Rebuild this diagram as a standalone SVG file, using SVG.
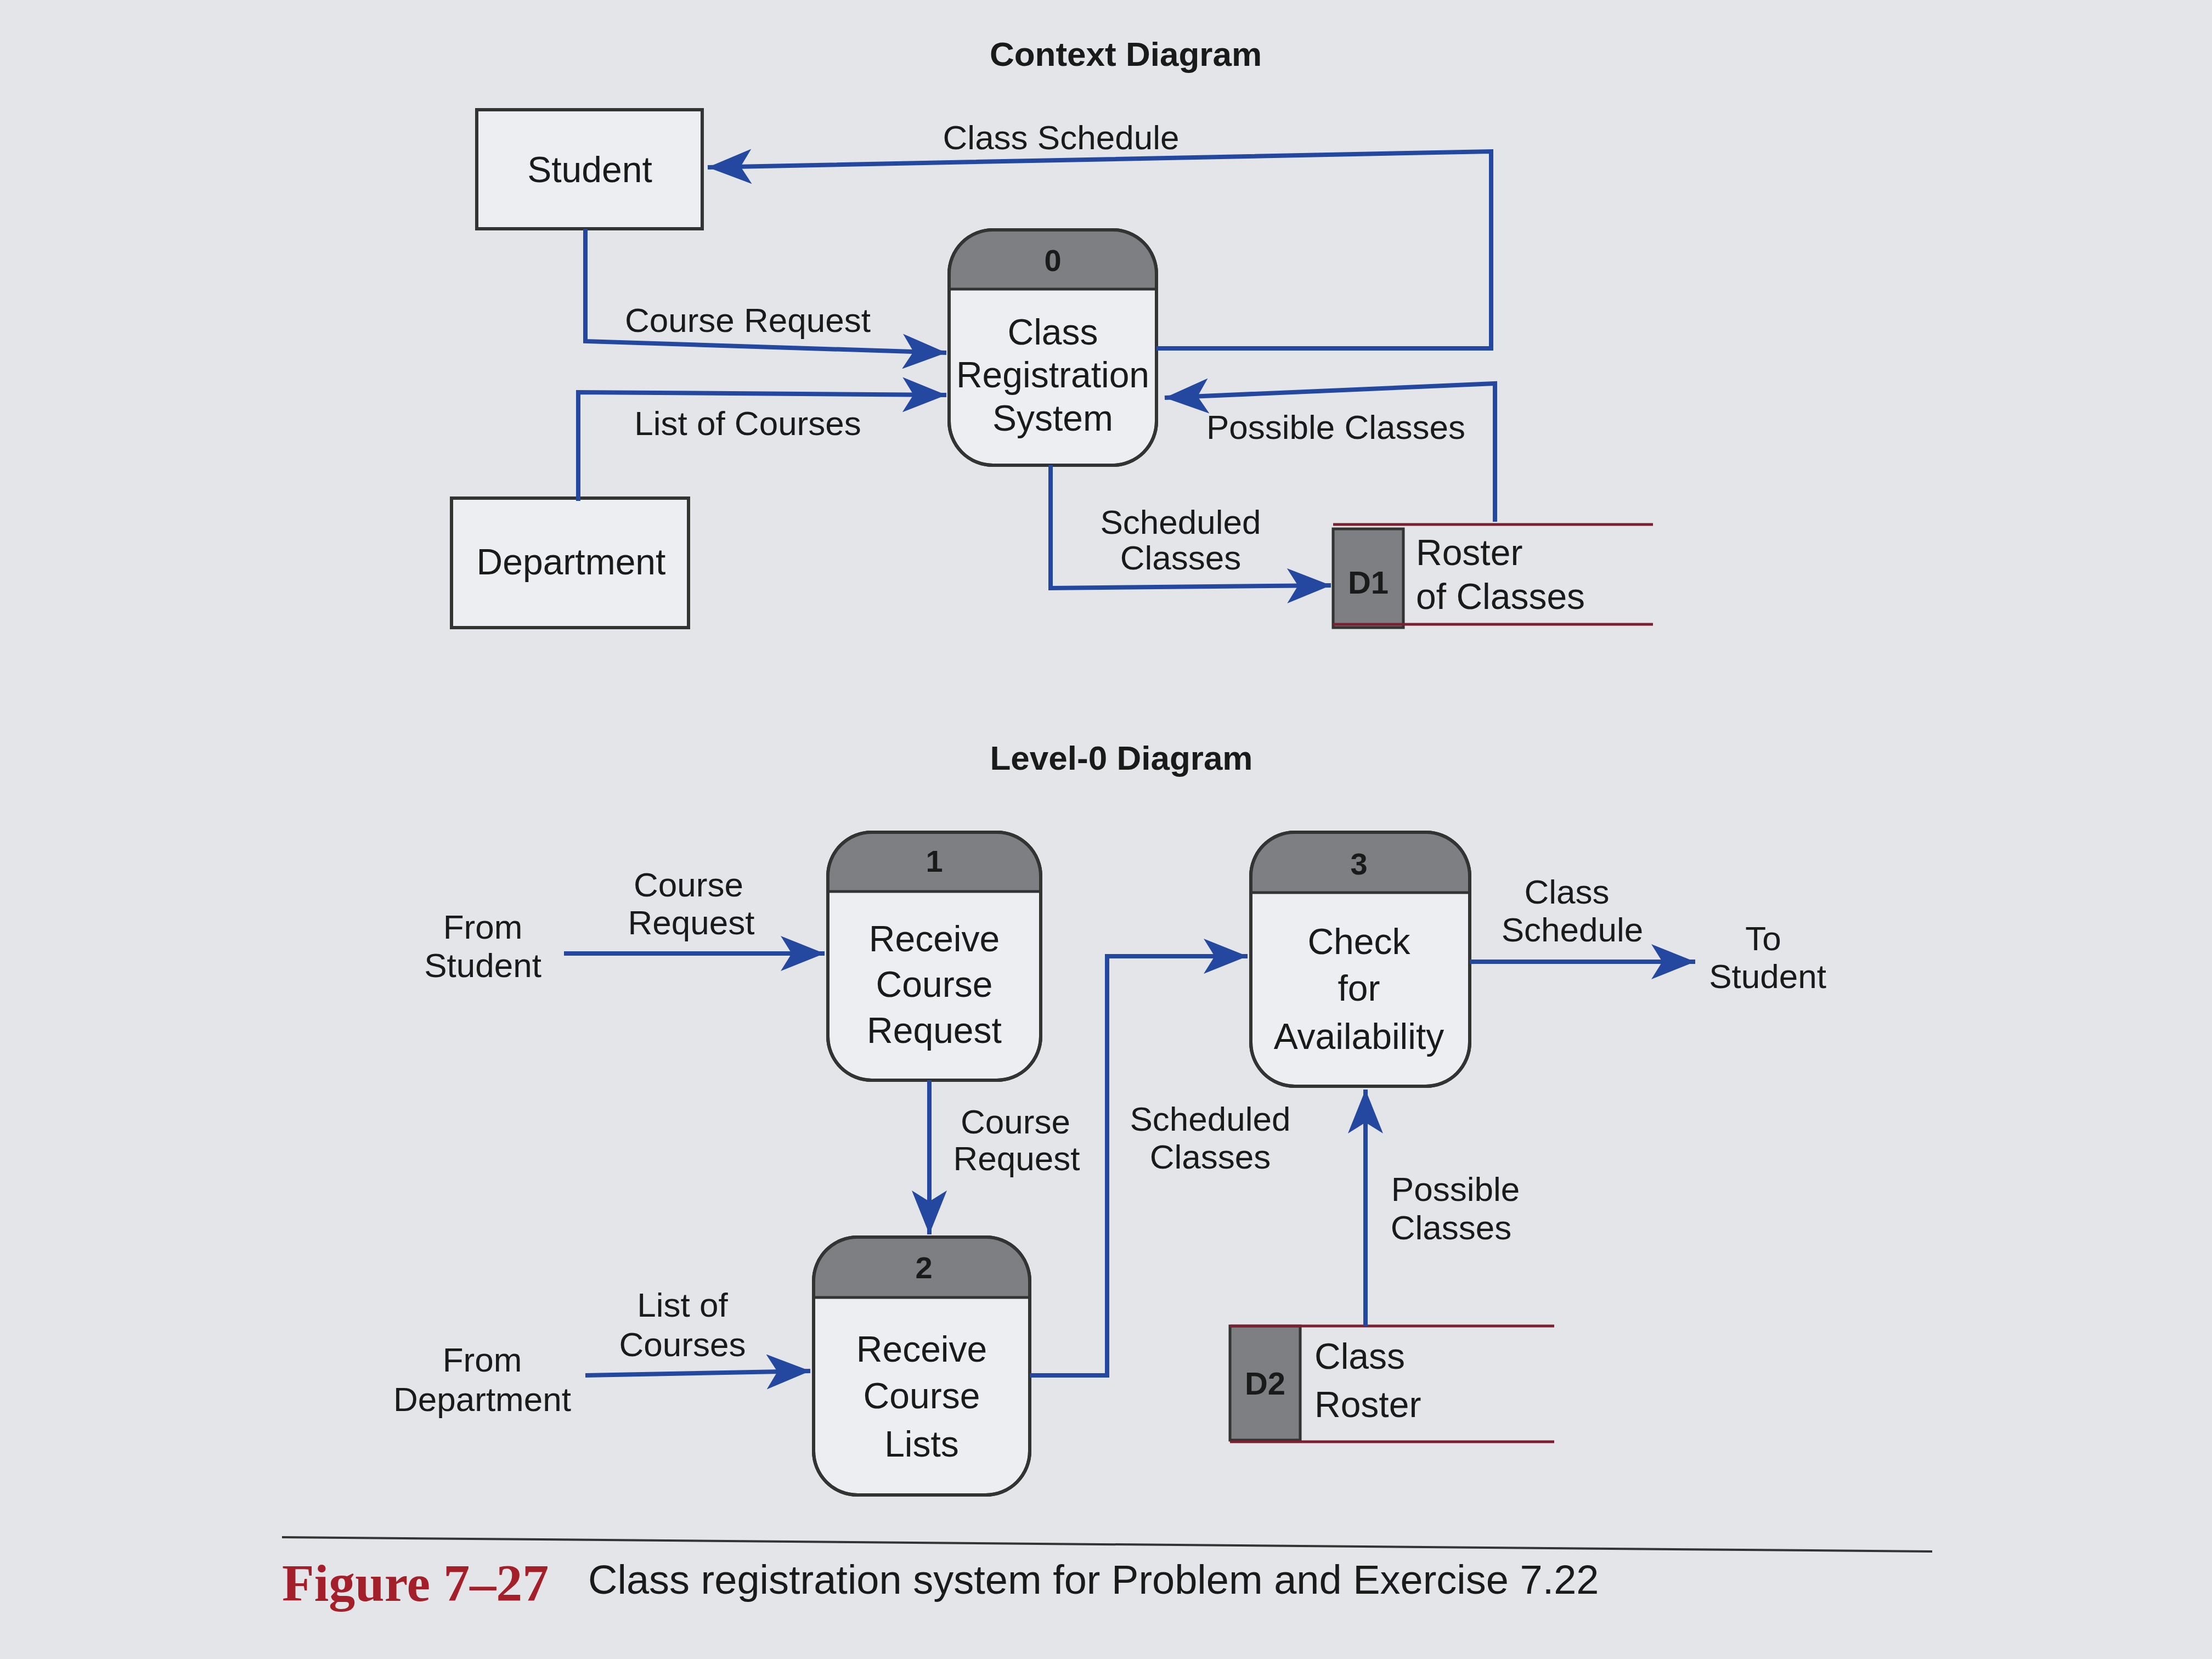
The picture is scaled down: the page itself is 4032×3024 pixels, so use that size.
<svg xmlns="http://www.w3.org/2000/svg" width="4032" height="3024" viewBox="0 0 4032 3024">
<defs>
<marker id="a" viewBox="0 0 10 8" refX="10" refY="4" markerWidth="10" markerHeight="8" orient="auto"><path d="M0,0 L10,4 L0,8 L2.5,4 z" fill="#2448a0"/></marker>
</defs>
<style>
text{font-family:"Liberation Sans",Arial,sans-serif;font-size:62px;fill:#1a1a1a;text-anchor:middle}
.l{text-anchor:start}
.t{font-weight:bold}
.big{font-size:66px}
.box{fill:#eceef1;stroke:#333;stroke-width:6}
.proc{fill:#eceef1;stroke:#333;stroke-width:6}
.hd{fill:#7d7f82}
.st{fill:none;stroke:#7a2030;stroke-width:5}
.c{fill:none;stroke:#2448a0;stroke-width:8;marker-end:url(#a)}
</style>
<rect width="4032" height="3024" fill="#e3e5e9"/>
<text x="2052" y="120" class="t">Context Diagram</text>
<text x="2044" y="1403" class="t">Level-0 Diagram</text>
<g id="student"><rect class="box" x="869" y="200" width="411" height="217"/><text x="1075" y="332" class="big">Student</text></g>
<g id="department"><rect class="box" x="823" y="908" width="432" height="236"/><text x="1041" y="1047" class="big">Department</text></g>
<g id="p0"><clipPath id="c0"><rect x="1730" y="419" width="378" height="429" rx="80"/></clipPath><rect class="proc" x="1730" y="419" width="378" height="429" rx="80"/><rect class="hd" x="1730" y="419" width="378" height="108" clip-path="url(#c0)"/><rect x="1730" y="419" width="378" height="429" rx="80" fill="none" stroke="#333" stroke-width="6"/><line x1="1730" y1="527" x2="2108" y2="527" stroke="#333" stroke-width="5"/><text x="1919" y="494" class="t" style="font-size:56px">0</text><text x="1919" y="628" class="big">Class</text><text x="1919" y="706" class="big">Registration</text><text x="1919" y="785" class="big">System</text></g>
<g id="d1"><rect x="2430" y="964" width="128" height="180" fill="#7d7f82" stroke="#333" stroke-width="5"/><path class="st" d="M2430,956 H3013 M2430,1138 H3013"/><text x="2494" y="1082" class="t" style="font-size:58px">D1</text><text x="2581" y="1030" class="l big">Roster</text><text x="2581" y="1110" class="l big">of Classes</text></g>
<g id="p1"><clipPath id="c1"><rect x="1509" y="1517" width="388" height="452" rx="80"/></clipPath><rect class="proc" x="1509" y="1517" width="388" height="452" rx="80"/><rect class="hd" x="1509" y="1517" width="388" height="108" clip-path="url(#c1)"/><rect x="1509" y="1517" width="388" height="452" rx="80" fill="none" stroke="#333" stroke-width="6"/><line x1="1509" y1="1625" x2="1897" y2="1625" stroke="#333" stroke-width="5"/><text x="1703" y="1589" class="t" style="font-size:56px">1</text><text x="1703" y="1734" class="big">Receive</text><text x="1703" y="1817" class="big">Course</text><text x="1703" y="1901" class="big">Request</text></g>
<g id="p2"><clipPath id="c2"><rect x="1483" y="2255" width="394" height="470" rx="80"/></clipPath><rect class="proc" x="1483" y="2255" width="394" height="470" rx="80"/><rect class="hd" x="1483" y="2255" width="394" height="110" clip-path="url(#c2)"/><rect x="1483" y="2255" width="394" height="470" rx="80" fill="none" stroke="#333" stroke-width="6"/><line x1="1483" y1="2365" x2="1877" y2="2365" stroke="#333" stroke-width="5"/><text x="1684" y="2330" class="t" style="font-size:56px">2</text><text x="1680" y="2482" class="big">Receive</text><text x="1680" y="2567" class="big">Course</text><text x="1680" y="2655" class="big">Lists</text></g>
<g id="p3"><clipPath id="c3"><rect x="2280" y="1517" width="399" height="463" rx="80"/></clipPath><rect class="proc" x="2280" y="1517" width="399" height="463" rx="80"/><rect class="hd" x="2280" y="1517" width="399" height="110" clip-path="url(#c3)"/><rect x="2280" y="1517" width="399" height="463" rx="80" fill="none" stroke="#333" stroke-width="6"/><line x1="2280" y1="1627" x2="2679" y2="1627" stroke="#333" stroke-width="5"/><text x="2477" y="1594" class="t" style="font-size:56px">3</text><text x="2477" y="1739" class="big">Check</text><text x="2477" y="1824" class="big">for</text><text x="2477" y="1912" class="big">Availability</text></g>
<g id="d2"><rect x="2242" y="2417" width="128" height="208" fill="#7d7f82" stroke="#333" stroke-width="5"/><path class="st" d="M2242,2417 H2833 M2242,2628 H2833"/><text x="2306" y="2542" class="t" style="font-size:58px">D2</text><text x="2396" y="2495" class="l big">Class</text><text x="2396" y="2583" class="l big">Roster</text></g>
<g id="ext-text"><text x="880" y="1711">From</text><text x="880" y="1781">Student</text><text x="879" y="2500">From</text><text x="879" y="2572">Department</text><text x="3214" y="1732">To</text><text x="3222" y="1801">Student</text></g>
<g id="connectors">
<path class="c" d="M2108,635 H2718 V276 L1290,305"/>
<path class="c" d="M1067,417 V622 L1725,643"/>
<path class="c" d="M1054,913 V715 L1725,720"/>
<path class="c" d="M2725,951 V699 L2123,725"/>
<path class="c" d="M1915,848 V1072 L2426,1067"/>
<path class="c" d="M1028,1738 H1503"/>
<path class="c" d="M1694,1969 V2250"/>
<path class="c" d="M1067,2507 L1477,2499"/>
<path class="c" d="M1877,2507 H2018 V1743 H2274"/>
<path class="c" d="M2679,1753 H3090"/>
<path class="c" d="M2489,2417 V1986"/>
<text x="1934" y="272">Class Schedule</text>
<text x="1363" y="605">Course Request</text>
<text x="1363" y="793">List of Courses</text>
<text x="2435" y="800">Possible Classes</text>
<text x="2152" y="973">Scheduled</text><text x="2152" y="1038">Classes</text>
<text x="1255" y="1634">Course</text><text x="1260" y="1703">Request</text>
<text x="1851" y="2066">Course</text><text x="1853" y="2133">Request</text>
<text x="1244" y="2400">List of</text><text x="1244" y="2472">Courses</text>
<text x="2206" y="2061">Scheduled</text><text x="2206" y="2130">Classes</text>
<text x="2856" y="1647">Class</text><text x="2866" y="1716">Schedule</text>
<text x="2653" y="2189">Possible</text><text x="2645" y="2259">Classes</text>
</g>
<line x1="514" y1="2802" x2="3522" y2="2828" stroke="#333" stroke-width="4"/>
<text x="514" y="2918" class="l t" style="font-family:'Liberation Serif',serif;font-size:96px;fill:#a3202a">Figure 7–27</text>
<text x="1072" y="2905" class="l" style="font-size:74px">Class registration system for Problem and Exercise 7.22</text>
</svg>
